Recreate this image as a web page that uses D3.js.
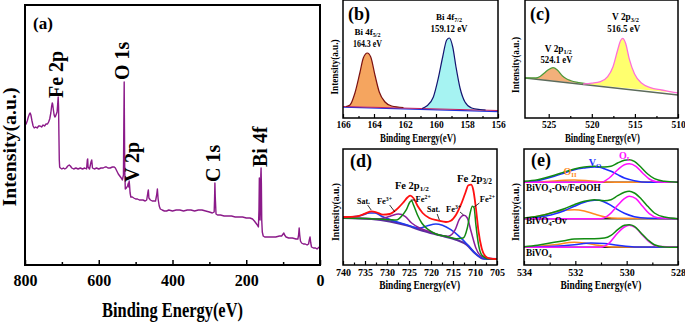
<!DOCTYPE html>
<html>
<head>
<meta charset="utf-8">
<script src="https://cdn.jsdelivr.net/npm/d3@7"></script>
<style>
  body { margin: 0; background: #fff; }
  svg { display: block; }
</style>
</head>
<body>
<svg id="chart" width="685" height="323"></svg>
<script>
// XPS figure: (a) survey, (b) Bi 4f, (c) V 2p, (d) Fe 2p, (e) O 1s.
// Every series is [binding energy (eV), intensity (a.u.)].

// (a) survey spectrum
const surveySpectrum = [
  [800,140],[797,141],[794,144],[791,148],[788,151],[786,152],[784,150],[781,144],[778,139],[775,137],
  [771,138],[767,137],[763,139],[759,139],[755,138],[751,140],[747,139],[743,141],[739,141],[736,143],
  [733,146],[730,152],[728,158],[726,162],[725,161],[723,155],[721,150],[719,148],[717,149],[715,151],
  [713,153],[711.5,160],[710,168],[709,158],[708,130],[707,105],[706,98],[704,97],[700,96],[696,97],
  [692,96],[688,97],[684,99],[680,100],[677,99],[673,97],[668,96],[662,97],[656,96],[650,97],
  [644,96],[638,97],[633,96],[631,105],[630,106],[629,98],[625,96],[621,103],[619,105],[617,97],
  [612,96],[606,97],[600,96],[594,97],[588,97],[583,98],[579,98],[575,97],[569,97],[563,98],
  [558,98],[555,97],[551,94],[547,91],[543,89],[539,87],[536,85],[533,90],[532,140],[531,183],
  [530.5,150],[529.5,95],[528,76],[525,77],[522,79],[519.5,82],[518.5,78],[517.5,84],[516.5,80],[515,72],
  [513,68],[509,68],[505,67],[500,66],[495,66],[490,65],[485,65],[480,65],[474,64],[470,65],
  [467,72],[465.5,75],[464,67],[460,65],[455,64],[450,64],[446,64],[443,70],[441,76],[439,66],
  [436,59],[433,56],[428,55],[422,54],[416,54],[410,55],[400,54],[390,55],[380,55],[370,54],
  [360,55],[350,55],[340,54],[330,55],[320,55],[310,54],[300,53],[292,52],[287,53],[286,65],
  [285,82],[284,68],[282,51],[278,50],[270,50],[260,49],[250,49],[240,49],[230,48],[220,48],
  [210,48],[200,47],[190,47],[183,46],[178,44],[174,42],[170,40],[167,38],[165.5,55],[164.5,87],
  [163.8,62],[162.5,45],[161.5,55],[160.5,90],[159.8,97],[159,82],[158,45],[156.5,33],[154,29],[150,28],
  [140,28],[130,28],[120,28],[110,29],[104,29],[100,31],[98,32],[96,30],[92,28],[85,27],
  [75,27],[65,26],[60,26],[58,30],[56.5,37],[55,30],[53,24],[50,22],[45,21],[40,21],
  [35,20],[31,21],[29,25],[27,28],[25,22],[23,18],[18,17],[12,17],[8,16],[5,17],[2,18],[0,18]
];
const surveyTicks = [800, 600, 400, 200, 0];
const surveyMinorTicks = [700, 500, 300, 100];
const surveyPeaks = ["Fe 2p", "O 1s", "V 2p", "C 1s", "Bi 4f"];

// (b) Bi 4f
const bi4f52 = [[165.8,11.5],[165.55,13],[165.23,25],[164.9,46],[164.69,60],[164.43,65],[164.21,61],
  [163.94,43],[163.66,26],[163.29,16],[162.86,12],[162.1,10.5]];
const bi4f72 = [[160.9,9.5],[160.6,12],[160.17,21],[159.85,40],[159.57,61],[159.31,78],[159.14,80],
  [158.92,71],[158.71,51],[158.45,30],[158.13,16],[157.7,10],[157.16,8.5],[156.8,8]];
const biBackground = [[166,11.5],[156,7.5]];
const biBaseline = [[166,10.8],[156,6.3]];
const biTicks = [166, 164, 162, 160, 158, 156];
const biMinorTicks = [165, 163, 161, 159, 157];

// (c) V 2p
const v2p12 = [[527.75,40],[527,40.2],[526.5,40],[526,41.5],[525.46,45.3],[525,48.5],[524.5,50.3],
  [524,48],[523.4,42],[523,39.5],[522.5,37.5],[521.5,35.3],[520.5,34]];
const v2p32 = [[521,34],[520,34.8],[519,36.3],[518.16,41.3],[517.54,51.3],[517,68],[516.67,77.3],
  [516.42,79.7],[516.08,74.7],[515.67,59.7],[515.04,44],[514.2,34.7],[513.2,30.3],[511.9,28],
  [510.25,25.3],[510,25]];
const vBaseline = [[527.75,40],[510,23]];
const vTicks = [525, 520, 515, 510];
const vMinorTicks = [522.5, 517.5, 512.5];

// (d) Fe 2p
const feEnvelope = [[740,48],[736.9,48.7],[735,51.3],[733.5,53.7],[732.4,52.7],[730.9,50.3],[729.4,51],
  [727.9,55.3],[726.4,62],[725.3,67.7],[724.7,69.3],[724,67],[723,58.7],[721.9,52],[720.4,47],
  [718.5,44.7],[716.6,43],[715.5,44.3],[714.3,50.3],[713.2,60.3],[712.2,72],[711.5,79.7],[710.9,80.3],
  [710.4,75.3],[709.8,57],[709.2,33.7],[708.5,17],[707.6,8.7],[706.5,6.3],[705,6]];
const feSatellite = [[740,47.7],[736.1,49.3],[733.9,52],[732.7,52],[731.2,48.7],[728.6,44.3],[725.6,40.3],
  [722.6,37],[720.8,39.3],[718.9,41],[717.4,39.7],[715.5,35.3],[713.6,28.7],[711.7,20.3],[709.8,11],
  [707.9,6.3],[705,6]];
const feBackground = [[740,47],[733.5,46],[729.4,43.7],[725.6,39.7],[721.9,34.3],[718,29.7],[714.3,25.3],
  [711.9,20.3],[709.8,11],[708.1,6.3],[705,6]];
const feFe3 = [[740,47],[731.6,46.3],[729.3,48.7],[727.4,51],[725.9,48.7],[724.4,42],[722.6,37],[720,33],
  [718,29.7],[716.1,28.7],[714.5,35.3],[713.6,45.3],[712.5,49.7],[711.75,47],[710.9,33.7],[709.8,17],
  [708.5,8.7],[705,5.7]];
const feFe2 = [[740,47],[733.5,46.3],[729.4,45.3],[727.9,45],[726.4,50.3],[725.6,55.3],[724.8,63],
  [724.4,64.3],[724,60.3],[723.1,50.3],[722.1,42],[720.6,35.3],[718.9,31],[716.6,28.7],[714.3,26.3],
  [712.7,27],[711.75,37],[711.1,52],[710.6,58.7],[710.2,57],[709.8,40.3],[709.2,20.3],[708.5,10.3],
  [707,6.3],[705,6]];
const feTicks = [740, 735, 730, 725, 720, 715, 710, 705];
const feMinorTicks = [737.5, 732.5, 727.5, 722.5, 717.5, 712.5, 707.5];

// (e) O 1s, three samples stacked top to bottom
const o1sSamples = ["BiVO4-Ov/FeOOH", "BiVO4-Ov", "BiVO4"];
const o1sBaseline = [82.7, 46.3, 17.7];
const o1sEnvelope = [
  [[534,83.7],[533.47,85.3],[532.82,89.7],[532.43,93],[532.04,96],[531.65,98],[531.26,98.7],[530.87,98],
   [530.61,98.7],[530.35,102],[530.09,104.7],[529.9,105.3],[529.7,103.7],[529.44,97.7],[529.18,91],
   [528.92,86.3],[528.53,83.7],[528,82.7]],
  [[534,47],[533.47,48.7],[532.82,53],[532.43,56.3],[532.04,60.3],[531.65,63.7],[531.26,65.3],[530.87,64.3],
   [530.61,65.3],[530.35,69.3],[530.09,72.7],[529.9,73.7],[529.7,72],[529.44,66.3],[529.18,58.7],
   [528.92,52],[528.53,48],[528,46.3]],
  [[534,18.3],[533.47,19.7],[532.82,22.7],[532.43,24.3],[532.04,26],[531.65,26.3],[531.26,26.3],[530.87,27],
   [530.61,29.7],[530.35,35.3],[530.09,39.7],[529.9,40.3],[529.7,38.7],[529.44,32],[529.18,25.3],
   [528.92,20.3],[528.53,18],[528,17.7]]
];
const o1sVo = [
  [[534,82.7],[533.47,84.3],[532.82,88.7],[532.43,92],[532.04,95.3],[531.65,97],[531.26,98],[531.07,97.7],
   [530.87,96.3],[530.61,93.7],[530.35,90.3],[530.09,87],[529.7,84.3],[529.18,82.7],[528,82.7]],
  [[534,46.3],[533.47,47.7],[532.82,51],[532.43,54.3],[532.04,58.7],[531.65,62.7],[531.26,64.7],[531.07,64.7],
   [530.87,63],[530.61,59.7],[530.35,55.3],[530.09,51.7],[529.7,48.3],[529.18,46.7],[528,46.3]],
  [[534,17.7],[532.82,18.7],[532.04,20.3],[531.4,22],[530.87,21.5],[530.35,19.7],[529.7,18],[528,17.7]]
];
const o1sOII = [
  [[534,82.7],[533.1,83.5],[532.43,84.7],[532.04,85],[531.5,84.3],[530.87,83],[530,82.7],[528,82.7]],
  [[534,46.3],[533.47,48.7],[532.82,52.7],[532.43,54.7],[532.04,55.3],[531.65,54],[531.26,51],[530.87,48.3],
   [530.35,46.7],[528,46.3]],
  [[534,17.7],[532.82,20.3],[532.04,22.7],[531.65,22],[531.1,19.7],[530.5,18],[528,17.7]]
];
const o1sOL = [
  [[534,82.7],[531,82.7],[530.68,87],[530.35,95.3],[530.09,100.3],[529.9,101.3],[529.64,98.7],[529.38,92],
   [529.12,86],[528.79,83],[528,82.7]],
  [[534,46.3],[531,46.3],[530.68,50.3],[530.35,59.7],[530.09,66.3],[529.9,68.7],[529.64,66.3],[529.38,58.7],
   [529.12,51.3],[528.79,47.3],[528,46.3]],
  [[534,17.7],[531,17.7],[530.68,22],[530.35,32],[530.09,38],[529.9,39.7],[529.64,37],[529.38,29.7],
   [529.12,23],[528.79,18.7],[528,17.7]]
];
const o1sTicks = [534, 532, 530, 528];
const o1sMinorTicks = [533, 531, 529];

function drawXpsFigure() {
  const svg = d3.select("#chart");
  const serif = "'Liberation Serif', 'Times New Roman', serif";

  function makePanel(box, xDomain) {
    const x = d3.scaleLinear().domain(xDomain).range([box.left, box.right]);
    const y = d3.scaleLinear().domain([0, box.bottom - box.top]).range([box.bottom, box.top]);
    return { box, x, y };
  }

  function bottomTicks(p, majors, minors, o) {
    const gMinor = svg.append("g").attr("transform", `translate(0,${p.box.bottom})`)
      .call(d3.axisBottom(p.x).tickValues(minors).tickSizeInner(-o.minor).tickSizeOuter(0).tickFormat(""));
    gMinor.select(".domain").remove();
    gMinor.selectAll(".tick line").attr("stroke", "#000").attr("stroke-width", o.sw);

    const gMajor = svg.append("g").attr("transform", `translate(0,${p.box.bottom})`)
      .call(d3.axisBottom(p.x).tickValues(majors).tickSizeInner(-o.major).tickSizeOuter(0)
        .tickPadding(o.pad).tickFormat(d3.format("d")));
    gMajor.attr("font-family", serif).attr("font-weight", "bold").attr("font-size", o.font);
    gMajor.select(".domain").remove();
    gMajor.selectAll(".tick line").attr("stroke", "#000").attr("stroke-width", o.sw);
    gMajor.selectAll(".tick text").attr("fill", "#000");
  }

  function frame(p, sw) {
    svg.append("rect")
      .attr("x", p.box.left).attr("y", p.box.top)
      .attr("width", p.box.right - p.box.left).attr("height", p.box.bottom - p.box.top)
      .attr("fill", "none").attr("stroke", "#000").attr("stroke-width", sw);
  }

  function titles(p, o) {
    svg.append("text")
      .attr("x", (p.box.left + p.box.right) / 2 + (o.dx || 0))
      .attr("y", o.xTitleY)
      .attr("text-anchor", "middle")
      .attr("font-family", serif).attr("font-weight", "bold").attr("font-size", o.xTitleSize)
      .attr("textLength", o.xTitleLen).attr("lengthAdjust", "spacingAndGlyphs")
      .text("Binding Energy(eV)");
    svg.append("text")
      .attr("transform", `translate(${o.yTitleX},${o.yTitleY}) rotate(-90)`)
      .attr("text-anchor", "middle")
      .attr("font-family", serif).attr("font-weight", "bold").attr("font-size", o.yTitleSize)
      .attr("textLength", o.yTitleLen).attr("lengthAdjust", "spacingAndGlyphs")
      .text("Intensity(a.u.)");
    svg.append("text")
      .attr("x", p.box.left + o.tagX).attr("y", p.box.top + o.tagY)
      .attr("font-family", serif).attr("font-weight", "bold").attr("font-size", o.tagSize)
      .text(o.tag);
  }

  function path(p, data, color, width, curve) {
    const line = d3.line().x(d => p.x(d[0])).y(d => p.y(d[1])).curve(curve || d3.curveMonotoneX);
    svg.append("path").datum(data)
      .attr("d", line)
      .attr("fill", "none").attr("stroke", color).attr("stroke-width", width)
      .attr("stroke-linejoin", "round");
  }

  function filled(p, data, color) {
    const line = d3.line().x(d => p.x(d[0])).y(d => p.y(d[1])).curve(d3.curveMonotoneX);
    svg.append("path").datum(data)
      .attr("d", d => line(d) + "Z")
      .attr("fill", color).attr("stroke", "none");
  }

  // label: plain text (squeezed to len) or text with a sub/superscript piece
  function label(x, y, parts, o) {
    const t = svg.append("text")
      .attr("x", x).attr("y", y)
      .attr("text-anchor", o.anchor || "start")
      .attr("font-family", serif).attr("font-weight", "bold").attr("font-size", o.size)
      .attr("fill", o.color || "#000");
    if (parts.length === 1) {
      t.text(parts[0][0]);
      if (o.len) t.attr("textLength", o.len).attr("lengthAdjust", "spacingAndGlyphs");
      return t;
    }
    parts.forEach(([txt, kind]) => {
      const s = t.append("tspan").text(txt);
      if (kind === "sub") s.attr("font-size", o.size * 0.68).attr("dy", o.size * 0.22);
      if (kind === "sup") s.attr("font-size", o.size * 0.68).attr("dy", -o.size * 0.38);
      if (kind === "back") s.attr("dy", -o.size * 0.22);
    });
    return t;
  }

  function leader(x1, y1, x2, y2) {
    svg.append("line").attr("x1", x1).attr("y1", y1).attr("x2", x2).attr("y2", y2)
      .attr("stroke", "#000").attr("stroke-width", 0.8);
  }

  // ---------- (a) survey ----------
  const pa = makePanel({ left: 25, right: 320, top: 5, bottom: 265 }, [800, 0]);
  path(pa, surveySpectrum, "#8B1A89", 1.4, d3.curveLinear);
  bottomTicks(pa, surveyTicks, surveyMinorTicks, { major: 5, minor: 3, sw: 1.5, pad: 10, font: 16 });
  frame(pa, 2);
  titles(pa, { xTitleY: 317, xTitleSize: 20, xTitleLen: 141, dx: 0,
    yTitleX: 16, yTitleY: 147, yTitleSize: 18, yTitleLen: 119,
    tag: "(a)", tagX: 8, tagY: 24, tagSize: 17 });
  const peakSpots = [[697, 167], [518, 185], [491, 83], [271, 83], [144, 98]];
  surveyPeaks.forEach((name, i) => {
    svg.append("text")
      .attr("transform", `translate(${pa.x(peakSpots[i][0])},${pa.y(peakSpots[i][1])}) rotate(-90)`)
      .attr("font-family", serif).attr("font-weight", "bold").attr("font-size", 20)
      .text(name);
  });

  // ---------- (b) Bi 4f ----------
  const pb = makePanel({ left: 343, right: 498, top: 0, bottom: 118 }, [166, 156]);
  filled(pb, bi4f52, "#F5A55F");
  filled(pb, bi4f72, "#A6F3F2");
  path(pb, biBaseline, "#2233DD", 1.3, d3.curveLinear);
  path(pb, biBackground, "#C02060", 1, d3.curveLinear);
  path(pb, bi4f52, "#7A1010", 1.2);
  path(pb, bi4f72, "#141470", 1.2);
  bottomTicks(pb, biTicks, biMinorTicks, { major: 4, minor: 2, sw: 1.2, pad: 3.5, font: 9.5 });
  frame(pb, 1.5);
  titles(pb, { xTitleY: 142, xTitleSize: 11.5, xTitleLen: 76, dx: -2.5,
    yTitleX: 338, yTitleY: 67, yTitleSize: 10, yTitleLen: 55,
    tag: "(b)", tagX: 5, tagY: 20, tagSize: 18 });
  label(pb.x(164.42), pb.y(83), [["Bi 4f"], ["5/2", "sub"]], { size: 9, anchor: "middle" });
  label(pb.x(164.42), pb.y(71), [["164.3 eV"]], { size: 10, anchor: "middle", len: 29 });
  label(pb.x(159.16), pb.y(98), [["Bi 4f"], ["7/2", "sub"]], { size: 9, anchor: "middle" });
  label(pb.x(159.16), pb.y(86), [["159.12 eV"]], { size: 10, anchor: "middle", len: 37 });

  // ---------- (c) V 2p ----------
  const pc = makePanel({ left: 525, right: 678, top: 0, bottom: 118 }, [527.75, 510]);
  filled(pc, v2p12, "#F3B07A");
  filled(pc, v2p32, "#FFFF6E");
  path(pc, vBaseline, "#5C6B5C", 1.3, d3.curveLinear);
  path(pc, v2p12, "#4E9A3A", 1.3);
  path(pc, v2p32, "#FF6FD8", 1.3);
  bottomTicks(pc, vTicks, vMinorTicks, { major: 4, minor: 2, sw: 1.2, pad: 3.5, font: 9.5 });
  frame(pc, 1.5);
  titles(pc, { xTitleY: 142, xTitleSize: 11.5, xTitleLen: 75, dx: 1,
    yTitleX: 519, yTitleY: 65, yTitleSize: 10, yTitleLen: 56,
    tag: "(c)", tagX: 5, tagY: 20, tagSize: 18 });
  label(pc.x(516.1), pc.y(98), [["V 2p"], ["3/2", "sub"]], { size: 9.3, anchor: "middle" });
  label(pc.x(516.3), pc.y(86), [["516.5 eV"]], { size: 10, anchor: "middle", len: 33 });
  label(pc.x(523.9), pc.y(66), [["V 2p"], ["1/2", "sub"]], { size: 9.3, anchor: "middle" });
  label(pc.x(524.1), pc.y(55), [["524.1 eV"]], { size: 10, anchor: "middle", len: 32 });

  // ---------- (d) Fe 2p ----------
  const pd = makePanel({ left: 343, right: 497, top: 149, bottom: 265 }, [740, 705]);
  path(pd, feBackground, "#5B2C9E", 2.2);
  path(pd, feSatellite, "#1F3BF0", 1.6);
  path(pd, feFe3, "#8B1E9B", 1.5);
  path(pd, feFe2, "#128A12", 1.5);
  path(pd, feEnvelope, "#FF1010", 1.8);
  bottomTicks(pd, feTicks, feMinorTicks, { major: 4, minor: 2.5, sw: 1.2, pad: 3.5, font: 10 });
  frame(pd, 1.5);
  titles(pd, { xTitleY: 288.5, xTitleSize: 11.5, xTitleLen: 81, dx: -0.3,
    yTitleX: 339, yTitleY: 212, yTitleSize: 10, yTitleLen: 58,
    tag: "(d)", tagX: 7, tagY: 18, tagSize: 18 });
  label(pd.x(728.2), pd.y(76), [["Fe 2p"], ["1/2", "sub"]], { size: 10.5 });
  label(pd.x(714.1), pd.y(83), [["Fe 2p"], ["3/2", "sub"]], { size: 10.8 });
  label(pd.x(736.8), pd.y(61), [["Sat."]], { size: 8, len: 13 });
  label(pd.x(732.3), pd.y(61), [["Fe"], ["3+", "sup"]], { size: 8.5 });
  label(pd.x(723.5), pd.y(63), [["Fe"], ["2+", "sup"]], { size: 8.5 });
  label(pd.x(720.9), pd.y(53), [["Sat."]], { size: 8, len: 13 });
  label(pd.x(716.6), pd.y(53), [["Fe"], ["3+", "sup"]], { size: 8.5 });
  label(pd.x(708.9), pd.y(63), [["Fe"], ["2+", "sup"]], { size: 8.5 });
  leader(pd.x(734.4), pd.y(60), pd.x(733.6), pd.y(55));
  leader(pd.x(729.4), pd.y(60), pd.x(728.2), pd.y(53));
  leader(pd.x(723.6), pd.y(65), pd.x(724.6), pd.y(65));
  leader(pd.x(718.6), pd.y(51), pd.x(718.1), pd.y(45));
  leader(pd.x(713.4), pd.y(53), pd.x(712.6), pd.y(50));
  leader(pd.x(709.0), pd.y(62), pd.x(710.2), pd.y(58));

  // ---------- (e) O 1s ----------
  const pe = makePanel({ left: 524, right: 678, top: 149, bottom: 265 }, [534, 528]);
  o1sSamples.forEach((name, i) => {
    const b = o1sBaseline[i];
    path(pe, [[534, b], [528, b]], "#2A2A2A", 1.4, d3.curveLinear);
    path(pe, o1sOII[i], "#FF8A1E", 1.5);
    path(pe, o1sVo[i], "#1E2EFF", 1.5);
    path(pe, o1sOL[i], "#FF10FF", 1.5);
    path(pe, o1sEnvelope[i], "#128C12", 1.5);
    const [head, tail] = name.split("4");
    const parts = tail ? [[head], ["4", "sub"], [tail, "back"]] : [[head], ["4", "sub"]];
    label(pe.x(533.92), pe.y(b - [8.7, 5.3, 8.7][i]), parts, { size: 9.3 });
  });
  bottomTicks(pe, o1sTicks, o1sMinorTicks, { major: 4, minor: 2.5, sw: 1.2, pad: 3.5, font: 10 });
  frame(pe, 1.5);
  titles(pe, { xTitleY: 288.5, xTitleSize: 11.5, xTitleLen: 81, dx: 0,
    yTitleX: 519, yTitleY: 212, yTitleSize: 10, yTitleLen: 58,
    tag: "(e)", tagX: 7, tagY: 17, tagSize: 18 });
  label(pe.x(532.46), pe.y(90), [["O"], ["II", "sub"]], { size: 10, color: "#FF8A1E" });
  label(pe.x(531.48), pe.y(99), [["V"], ["O", "sub"]], { size: 10, color: "#1E2EFF" });
  label(pe.x(530.3), pe.y(106), [["O"], ["L", "sub"]], { size: 10, color: "#FF10FF" });
}

drawXpsFigure();
</script>
</body>
</html>
